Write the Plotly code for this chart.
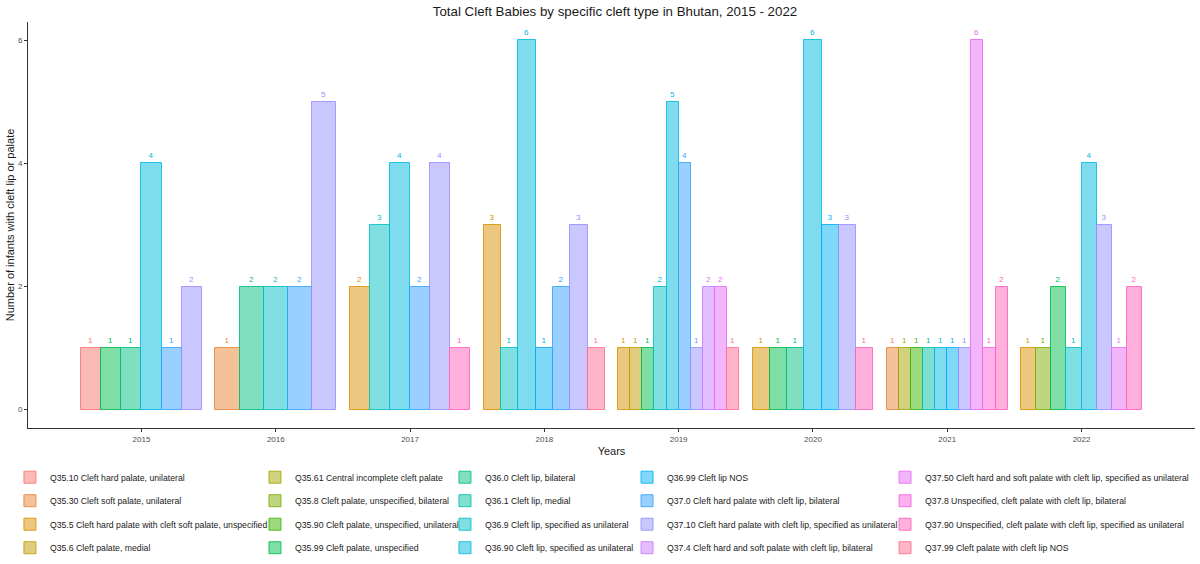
import plotly.graph_objects as go

years = [2015, 2016, 2017, 2018, 2019, 2020, 2021, 2022]

codes = ["Q35.10", "Q35.30", "Q35.5", "Q35.6", "Q35.61", "Q35.8", "Q35.90", "Q35.99",
         "Q36.0", "Q36.1", "Q36.9", "Q36.90", "Q36.99", "Q37.0", "Q37.10", "Q37.4",
         "Q37.50", "Q37.8", "Q37.90", "Q37.99"]
names = [
    "Q35.10 Cleft hard palate, unilateral",
    "Q35.30 Cleft soft palate, unilateral",
    "Q35.5 Cleft hard palate with cleft soft palate, unspecified",
    "Q35.6 Cleft palate, medial",
    "Q35.61 Central incomplete cleft palate",
    "Q35.8 Cleft palate, unspecified, bilateral",
    "Q35.90 Cleft palate, unspecified, unilateral",
    "Q35.99 Cleft palate, unspecified",
    "Q36.0 Cleft lip, bilateral",
    "Q36.1 Cleft lip, medial",
    "Q36.9 Cleft lip, specified as unilateral",
    "Q36.90 Cleft lip, specified as unilateral",
    "Q36.99 Cleft lip NOS",
    "Q37.0 Cleft hard palate with cleft lip, bilateral",
    "Q37.10 Cleft hard palate with cleft lip, specified as unilateral",
    "Q37.4 Cleft hard and soft palate with cleft lip, bilateral",
    "Q37.50 Cleft hard and soft palate with cleft lip, specified as unilateral",
    "Q37.8 Unspecified, cleft palate with cleft lip, bilateral",
    "Q37.90 Unspecified, cleft palate with cleft lip, specified as unilateral",
    "Q37.99 Cleft palate with cleft lip NOS",
]

# cases per year: codes present and their counts
codes_2015 = ["Q35.10", "Q35.99", "Q36.0", "Q36.90", "Q37.0", "Q37.10"]
n_2015 = [1, 1, 1, 4, 1, 2]
codes_2016 = ["Q35.30", "Q36.0", "Q36.9", "Q37.0", "Q37.10"]
n_2016 = [1, 2, 2, 2, 5]
codes_2017 = ["Q35.5", "Q36.9", "Q36.90", "Q37.0", "Q37.10", "Q37.90"]
n_2017 = [2, 3, 4, 2, 4, 1]
codes_2018 = ["Q35.5", "Q36.9", "Q36.90", "Q36.99", "Q37.0", "Q37.10", "Q37.99"]
n_2018 = [3, 1, 6, 1, 2, 3, 1]
codes_2019 = ["Q35.5", "Q35.6", "Q35.99", "Q36.9", "Q36.90", "Q37.0", "Q37.10", "Q37.4", "Q37.50", "Q37.99"]
n_2019 = [1, 1, 1, 2, 5, 4, 1, 2, 2, 1]
codes_2020 = ["Q35.5", "Q35.99", "Q36.0", "Q36.90", "Q36.99", "Q37.10", "Q37.90"]
n_2020 = [1, 1, 1, 6, 3, 3, 1]
codes_2021 = ["Q35.30", "Q35.61", "Q35.90", "Q36.1", "Q36.90", "Q36.99", "Q37.10", "Q37.50", "Q37.8", "Q37.90"]
n_2021 = [1, 1, 1, 1, 1, 1, 1, 6, 1, 2]
codes_2022 = ["Q35.5", "Q35.8", "Q35.99", "Q36.9", "Q36.90", "Q37.10", "Q37.50", "Q37.90"]
n_2022 = [1, 1, 2, 1, 4, 3, 1, 2]

year_codes = [codes_2015, codes_2016, codes_2017, codes_2018, codes_2019, codes_2020, codes_2021, codes_2022]
year_counts = [n_2015, n_2016, n_2017, n_2018, n_2019, n_2020, n_2021, n_2022]

colors = ["#F8766D", "#EA8331", "#D89000", "#C09B00", "#A3A500", "#7CAE00", "#39B600", "#00BB4E",
          "#00BF7D", "#00C1A3", "#00BFC4", "#00BAE0", "#00B0F6", "#35A2FF", "#9590FF", "#C77CFF",
          "#E76BF3", "#FA62DB", "#FF62BC", "#FF6C91"]


def rgba(h, a):
    h = h.lstrip("#")
    r, g, b = int(h[0:2], 16), int(h[2:4], 16), int(h[4:6], 16)
    return f"rgba({r},{g},{b},{a})"


# dodge like ggplot: bars present in a year share a total width of 0.9
total_w = 0.9
legend_cols = ["legend", "legend2", "legend3", "legend4", "legend5"]

fig = go.Figure()
for ci, code in enumerate(codes):
    xs, ys, ws = [], [], []
    for yr, yc, yn in zip(years, year_codes, year_counts):
        if code in yc:
            k = yc.index(code)
            w = total_w / len(yc)
            xs.append(yr - total_w / 2 + (k + 0.5) * w)
            ys.append(yn[k])
            ws.append(w)
    fig.add_trace(go.Bar(
        x=xs, y=ys, width=ws, name=names[ci],
        marker=dict(color=rgba(colors[ci], 0.5), line=dict(color=rgba(colors[ci], 0.85), width=1)),
        text=[str(v) for v in ys], textposition="outside",
        textfont=dict(size=8, color=colors[ci], family="Liberation Sans, Arial"),
        constraintext="none", cliponaxis=False,
        legend=legend_cols[ci // 4], legendgroup=code,
        hovertemplate="%{y}<extra>" + names[ci] + "</extra>",
    ))

leg_x = [-0.0155, 0.1945, 0.3573, 0.5133, 0.7344]
leg_common = dict(
    orientation="v", yanchor="top", y=-0.0855, xanchor="left",
    font=dict(size=8.7, color="#1a1a1a", family="Liberation Sans, Arial"),
    bgcolor="rgba(0,0,0,0)", traceorder="grouped", tracegroupgap=4.5,
)
legend_layout = {}
for name, lx in zip(legend_cols, leg_x):
    legend_layout[name] = dict(x=lx, **leg_common)

fig.update_layout(
    width=1200, height=564,
    margin=dict(l=28, r=5, t=22, b=136, autoexpand=False),
    paper_bgcolor="white", plot_bgcolor="white",
    barmode="overlay",
    bargap=0,
    title=dict(text="Total Cleft Babies by specific cleft type in Bhutan, 2015 - 2022",
               x=0.5125, xanchor="center", y=0.9805, yanchor="middle",
               font=dict(size=13.3, color="#1a1a1a", family="Liberation Sans, Arial")),
    xaxis=dict(
        range=[2014.155, 2022.845], tickmode="array", tickvals=years,
        ticktext=[str(y) for y in years],
        showgrid=False, zeroline=False, showline=True, linecolor="#333333", linewidth=1,
        ticks="outside", ticklen=3, tickcolor="#333333",
        tickfont=dict(size=8, color="#4d4d4d", family="Liberation Sans, Arial"),
        title=dict(text="Years", standoff=4,
                   font=dict(size=11, color="#1a1a1a", family="Liberation Sans, Arial")),
    ),
    yaxis=dict(
        range=[-0.3, 6.3], tickmode="array", tickvals=[0, 2, 4, 6],
        showgrid=False, zeroline=False, showline=True, linecolor="#333333", linewidth=1,
        ticks="outside", ticklen=3, tickcolor="#333333",
        tickfont=dict(size=8, color="#4d4d4d", family="Liberation Sans, Arial"),
        title=dict(text="Number of infants with cleft lip or palate", standoff=1,
                   font=dict(size=11, color="#1a1a1a", family="Liberation Sans, Arial")),
    ),
    **legend_layout,
)

# the page body has an 8px default margin; drop it so the figure sits at the window corner
fig.write_html("out.html", config={"displayModeBar": False},
               post_script="document.body.style.margin='0';")
